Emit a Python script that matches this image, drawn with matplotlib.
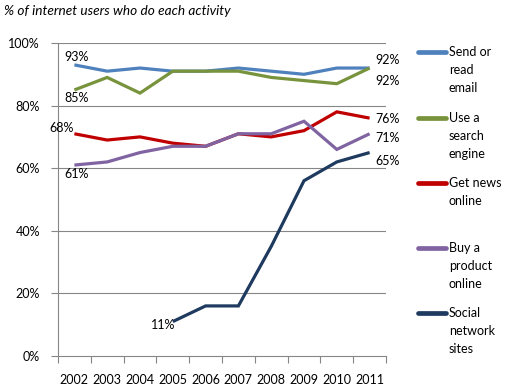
import matplotlib
matplotlib.use("Agg")
import matplotlib.pyplot as plt
from matplotlib.lines import Line2D
import numpy as np

years = ["2002", "2003", "2004", "2005", "2006", "2007", "2008", "2009", "2010", "2011"]
email = [93, 91, 92, 91, 91, 92, 91, 90, 92, 92]
search = [85, 89, 84, 91, 91, 91, 89, 88, 87, 92]
news = [71, 69, 70, 68, 67, 71, 70, 72, 78, 76]
buy = [61, 62, 65, 67, 67, 71, 71, 75, 66, 71]
social = [None, None, None, 11, 16, 16, 35, 56, 62, 65]

series_names = ["Send or\nread\nemail", "Use a\nsearch\nengine", "Get news\nonline",
                "Buy a\nproduct\nonline", "Social\nnetwork\nsites"]
colors = ["#4F81BD", "#77933C", "#C00000", "#8064A2", "#1F3A5F"]

yticks = [0, 20, 40, 60, 80, 100]
ytick_labels = ["0%", "20%", "40%", "60%", "80%", "100%"]
title = "% of internet users who do each activity"

# data labels: (series index, year index, text, dx px, dy px, ha)
labels = [
    (0, 0, "93%", 2, 8, "center"),
    (1, 0, "85%", 2, -8, "center"),
    (2, 0, "68%", -13, 6, "center"),
    (3, 0, "61%", 2, -9, "center"),
    (0, 9, "92%", 6, 8, "left"),
    (1, 9, "92%", 6, -13, "left"),
    (2, 9, "76%", 6, -1, "left"),
    (3, 9, "71%", 6, -4, "left"),
    (4, 9, "65%", 6, -8, "left"),
    (4, 3, "11%", -10, -3, "center"),
]

plt.rcParams['font.family'] = ['Lato', 'DejaVu Sans']
FS = 9

fig = plt.figure(figsize=(5.10, 3.88), dpi=100)
ax = fig.add_axes([58/510, 32/388, (386-58)/510, (356-43)/388])

all_series = [email, search, news, buy, social]
x = np.arange(len(years))
for vals, c in zip(all_series, colors):
    y = np.array([np.nan if v is None else v for v in vals], dtype=float)
    ax.plot(x, y, color=c, lw=2.3, solid_capstyle='butt', solid_joinstyle='miter')

for si, yi, txt, dx, dy, ha in labels:
    ax.annotate(txt, (x[yi], all_series[si][yi]), xytext=(dx, dy), textcoords='offset pixels',
                ha=ha, va='center', fontsize=FS, color='black')

ax.set_xlim(-0.5, len(years) - 0.5)
ax.set_ylim(0, 100)
ax.set_yticks(yticks)
ax.set_yticklabels(ytick_labels, fontsize=FS)
ax.set_xticks(x)
ax.set_xticklabels(years, fontsize=FS)
ax.set_xticks(np.arange(-0.5, len(years)), minor=True)
ax.tick_params(axis='x', which='major', length=0, pad=13)
ax.tick_params(axis='x', which='minor', length=5, color='#868686', width=0.8)
ax.tick_params(axis='y', length=5, color='#868686', width=0.8, pad=8)
for yt in yticks[1:]:
    ax.axhline(yt, color='#868686', lw=0.8, zorder=0)
for s in ['top', 'right']:
    ax.spines[s].set_visible(False)
for s in ['left', 'bottom']:
    ax.spines[s].set_color('#868686')
    ax.spines[s].set_linewidth(0.8)

fig.text(4/510, 1 - 11/388, title, fontsize=9.8, style='italic', va='center', ha='left')

# legend
leg_y = [52, 118, 183, 248, 313]
for name, c, yy in zip(series_names, colors, leg_y):
    yf = 1 - yy/388
    fig.add_artist(Line2D([418/510, 446/510], [yf, yf], color=c, lw=3.4, solid_capstyle='round'))
    for k, line in enumerate(name.split("\n")):
        fig.text(449/510, 1 - (yy + 18*k)/388, line, fontsize=FS, va='center', ha='left')

fig.savefig("out.png", dpi=100)
